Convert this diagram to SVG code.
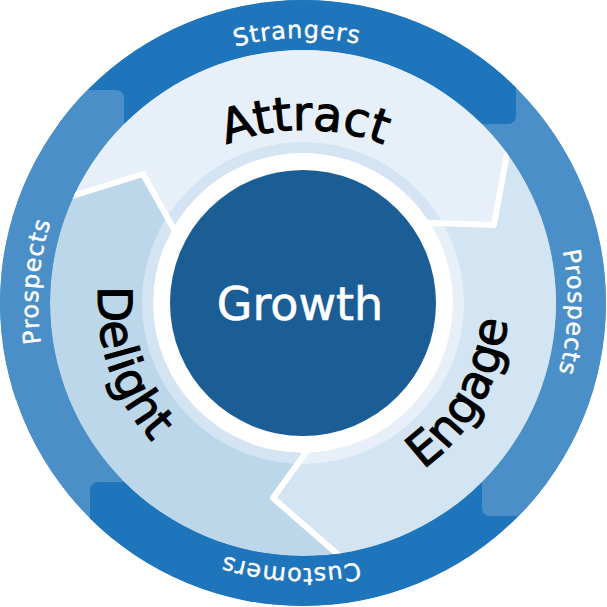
<svg xmlns="http://www.w3.org/2000/svg" width="607" height="607" viewBox="0 0 607 607">
<style>
  .lbl { font-family: "DejaVu Sans", "Noto Sans", sans-serif; font-size: 47px; fill: #000000; stroke: #000000; stroke-width: 1.1px; }
  .band { font-family: "DejaVu Sans", "Noto Sans", sans-serif; font-size: 24px; fill: #ffffff; stroke: #ffffff; stroke-width: 0.4px; letter-spacing: 0.9px; }
  .hub { font-family: "DejaVu Sans", "Noto Sans", sans-serif; font-size: 46px; fill: #ffffff; stroke: #ffffff; stroke-width: 0.6px; }
  .div { fill: none; stroke: #ffffff; stroke-width: 6; stroke-linejoin: round; }
  .dark { fill: #1f75bb; }
  .mid { fill: #4a8fc7; }
</style>
<defs>
  <clipPath id="outerClip"><circle cx="303" cy="303" r="303"/></clipPath>
  <clipPath id="innerClip"><circle cx="303" cy="303" r="253"/></clipPath>
  <clipPath id="engageClip"><polygon points="303,303 430,223 494,225 536,-3 660,-50 660,700 465,663 273,498 306,452"/></clipPath>
  <path id="pStrangers" d="M 71.4 176.2 A 263 263 0 0 1 528.6 165.9"/>
  <path id="pProsR" d="M 442.9 79.1 A 263 263 0 0 1 426.9 536.1"/>
  <path id="pCustomers" d="M 525.4 445.2 A 263 263 0 0 1 68.6 424.5"/>
  <path id="pProsL" d="M 153.1 520.3 A 263 263 0 0 1 189.8 64.5"/>
  <path id="pAttract" d="M 149.4 194.4 A 220 220 0 0 1 460.6 194.4"/>
  <path id="pDelight" d="M 127.3 197.4 A 205 205 0 0 0 229.5 494.4"/>
  <path id="pEngage" d="M 340.4 504.6 A 205 205 0 0 0 495 231.2"/>
</defs>

<g id="outer-ring" clip-path="url(#outerClip)">
  <circle cx="303" cy="303" r="303" class="mid"/>
  <g id="strangers">
    <path class="dark" d="M -10 -10 H 516 V 115 Q 516 124 507 124 H -10 Z"/>
  </g>
  <g id="customers">
    <path class="dark" d="M 90 491 Q 90 482 99 482 H 620 V 620 H 90 Z"/>
  </g>
  <g id="prospects-left">
    <path class="mid" d="M -10 90 H 115 Q 124 90 124 99 V 400 H -10 Z"/>
  </g>
  <g id="prospects-right">
    <path class="mid" d="M 620 200 V 516 H 491 Q 482 516 482 507 V 200 Z"/>
  </g>
</g>
<g id="ring-labels">
  <text class="band"><textPath href="#pStrangers" startOffset="50%" text-anchor="middle">Strangers</textPath></text>
  <text class="band"><textPath href="#pProsR" startOffset="50%" text-anchor="middle">Prospects</textPath></text>
  <text class="band"><textPath href="#pCustomers" startOffset="50%" text-anchor="middle">Customers</textPath></text>
  <text class="band"><textPath href="#pProsL" startOffset="50%" text-anchor="middle">Prospects</textPath></text>
</g>

<g id="stages" clip-path="url(#innerClip)">
  <g id="delight">
    <circle cx="303" cy="303" r="253" fill="#bdd7ea"/>
  </g>
  <g id="engage">
    <polygon points="303,303 430,223 494,225 536,-3 660,-50 660,700 465,663 273,498 306,452" fill="#d3e4f2"/>
  </g>
  <g id="attract">
    <polygon points="303,303 173,227 143,174 -50,234 -50,-50 660,-50 536,-3 494,225 430,223" fill="#e7f0f8"/>
  </g>
  <circle cx="303" cy="303" r="155.5" fill="none" stroke="#d4e4f2" stroke-width="11"/>
  <circle cx="303" cy="303" r="155.5" fill="none" stroke="#e7f0f8" stroke-width="11" clip-path="url(#engageClip)"/>
</g>

<g id="connectors" clip-path="url(#innerClip)">
  <polyline class="div" points="40,206 143,174 180,240"/>
  <polyline class="div" points="512,127 494,225 420,222.5"/>
  <polyline class="div" points="312,444 273,498 350,565"/>
</g>

<g id="stage-labels">
  <text class="lbl"><textPath href="#pAttract" startOffset="50%" text-anchor="middle">Attract</textPath></text>
  <text class="lbl"><textPath href="#pDelight" startOffset="50%" text-anchor="middle">Delight</textPath></text>
  <text class="lbl"><textPath href="#pEngage" startOffset="50%" text-anchor="middle">Engage</textPath></text>
</g>

<g id="growth">
  <circle cx="303" cy="303" r="150" fill="#ffffff"/>
  <circle cx="303" cy="303" r="133" fill="#1b5d95"/>
  <text class="hub" x="300" y="320" text-anchor="middle">Growth</text>
</g>
</svg>
